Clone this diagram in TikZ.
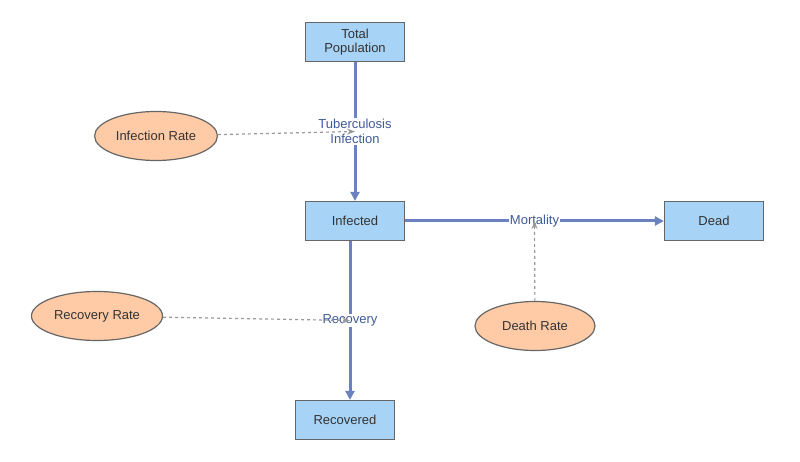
\documentclass[tikz,border=0pt]{standalone}
\usepackage{fontspec}
\setmainfont{Liberation Sans}
\usetikzlibrary{arrows.meta,positioning,shapes.geometric}
\definecolor{boxblue}{HTML}{A7D3F6}
\definecolor{peach}{HTML}{FFCBA6}
\definecolor{flowblue}{HTML}{6A82BE}
\definecolor{labelblue}{HTML}{3F5A9A}
\begin{document}
\begin{tikzpicture}[
    x=1pt, y=-1pt,
    stock/.style={rectangle, draw=black!60, fill=boxblue, line width=1.2pt, minimum width=99pt, minimum height=39pt, align=center, font=\fontsize{13}{14}\selectfont, text=black!80},
    rate/.style={ellipse, draw=black!60, fill=peach, line width=1.2pt, minimum width=120pt, minimum height=49pt, font=\fontsize{13}{14}\selectfont, text=black!80},
    flow/.style={-{Triangle[length=9pt,width=9pt]}, flowblue, line width=3pt},
    flowlabel/.style={fill=white, inner sep=1pt, align=center, text=labelblue, font=\fontsize{13}{15}\selectfont},
    link/.style={-{Stealth[length=8pt]}, black!40, dashed, line width=1.2pt}
]
    \useasboundingbox (0,0) rectangle (800,462);
    \node[stock] (total) at (355,42) {Total\\Population};
    \node[stock] (infected) at (355,221) {Infected};
    \node[stock] (dead) at (714,221) {Dead};
    \node[stock] (recovered) at (345,420) {Recovered};

    \node[rate] (irate) at (156,136) {Infection Rate};
    \node[rate] (rrate) at (97,316) {Recovery Rate};
    \node[rate] (drate) at (535,326) {Death Rate};

    % Flows
    \draw[flow] (total) -- node[flowlabel] (tb) {Tuberculosis\\Infection} (infected);
    \draw[flow] (infected) -- node[flowlabel, pos=0.5] (mort) {Mortality} (dead);
    \draw[flow] ([xshift=-5pt]infected.south) -- node[flowlabel] (rec) {Recovery} ([xshift=5pt]recovered.north);

    % Rates
    \draw[link] (irate) -- (tb.center);
    \draw[link] (rrate) -- (rec.center);
    \draw[link] (drate) -- (mort.center);
\end{tikzpicture}
\end{document}
